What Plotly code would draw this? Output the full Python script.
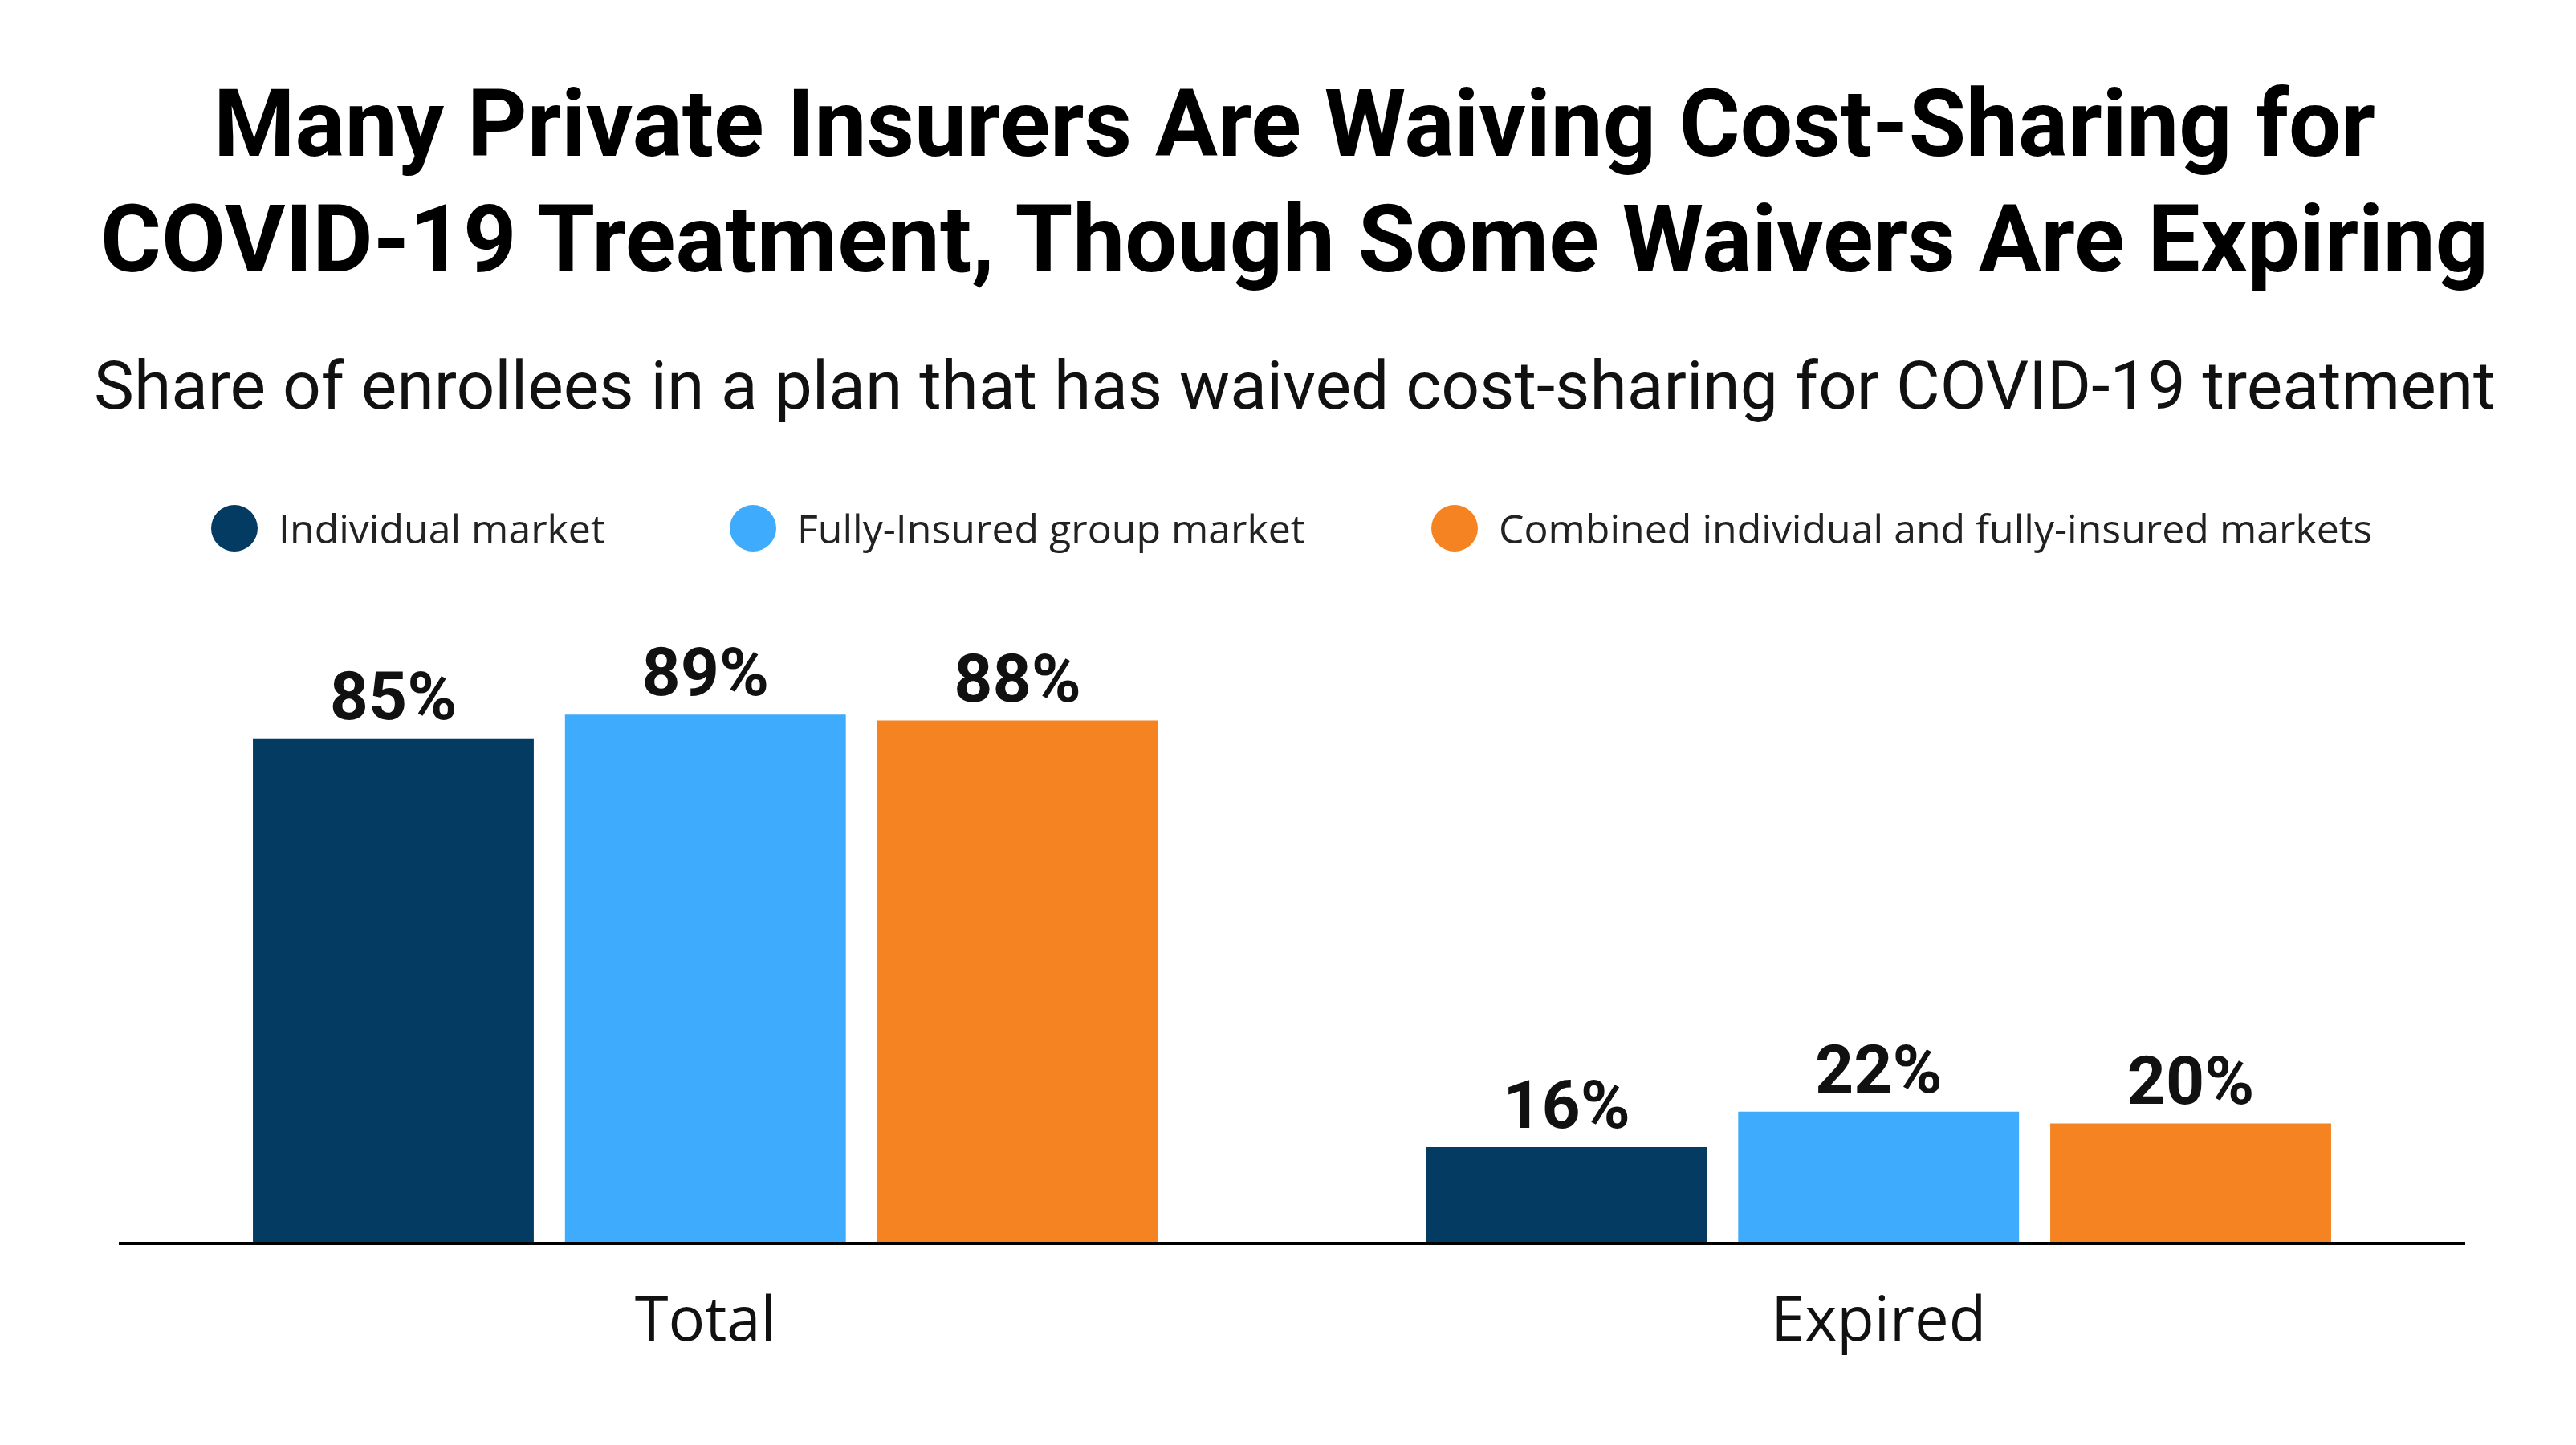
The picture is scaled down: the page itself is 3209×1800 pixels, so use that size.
import plotly.graph_objects as go

categories = ["Total", "Expired"]
series_names = ["Individual market", "Fully-Insured group market",
                "Combined individual and fully-insured markets"]
individual = [85, 16]
fully_insured = [89, 22]
combined = [88, 20]
series_values = [individual, fully_insured, combined]
colors = ["#033B63", "#3EABFC", "#F58321"]

title_lines = ["Many Private Insurers Are Waiving Cost-Sharing for",
               "COVID-19 Treatment, Though Some Waivers Are Expiring"]
subtitle = "Share of enrollees in a plan that has waived cost-sharing for COVID-19 treatment"

W, H = 3209, 1800
fig = go.Figure()
for name, vals, col in zip(series_names, series_values, colors):
    fig.add_trace(go.Bar(
        x=categories, y=vals, name=name, marker_color=col,
        marker_line_width=0,
        text=[f"{v}%" for v in vals], textposition="outside",
        textfont=dict(family="Roboto", size=84, color="#111111", weight="bold"),
        cliponaxis=False, showlegend=False,
    ))

# plot area in pixels
left, right, top, bottom = 140, 146, 801, 261
pw = W - left - right
ph = H - top - bottom

def px_to_paper(xp, yp):
    return (xp - left) / pw, (H - bottom - yp) / ph

annotations = []
shapes = []
title_y = [146, 290]
for line, yy in zip(title_lines, title_y):
    x, y = px_to_paper(W / 2, yy)
    annotations.append(dict(text=f"<b>{line}</b>", xref="paper", yref="paper",
                            x=x, y=y, xanchor="center", yanchor="middle",
                            showarrow=False,
                            font=dict(family="Roboto", size=116, color="#000000")))
x, y = px_to_paper(W / 2, 472)
annotations.append(dict(text=subtitle, xref="paper", yref="paper", x=x, y=y,
                        xanchor="center", yanchor="middle", showarrow=False,
                        font=dict(family="Roboto", size=84, color="#111111")))

legend_marker_x = [284, 930, 1804]
legend_y = 650
r = 29
for name, col, mx in zip(series_names, colors, legend_marker_x):
    x0, y0 = px_to_paper(mx - r, legend_y + r)
    x1, y1 = px_to_paper(mx + r, legend_y - r)
    shapes.append(dict(type="circle", xref="paper", yref="paper", x0=x0, y0=y0,
                       x1=x1, y1=y1, fillcolor=col, line_width=0))
    tx, ty = px_to_paper(mx + 53, legend_y)
    annotations.append(dict(text=name, xref="paper", yref="paper", x=tx, y=ty,
                            xanchor="left", yanchor="middle", showarrow=False,
                            font=dict(family="Open Sans", size=50, color="#222222")))

fig.update_layout(
    width=W, height=H,
    margin=dict(l=left, r=right, t=top, b=bottom),
    paper_bgcolor="white", plot_bgcolor="white",
    barmode="group", bargap=0.202, bargroupgap=0.1,
    annotations=annotations, shapes=shapes,
    xaxis=dict(showline=True, linecolor="#000000", linewidth=4,
               ticks="", showgrid=False, ticklabelstandoff=28,
               tickfont=dict(family="Open Sans", size=76, color="#111111")),
    yaxis=dict(range=[0, 100], visible=False, showgrid=False, zeroline=False),
    showlegend=False,
)
fig.write_html("out.html")
